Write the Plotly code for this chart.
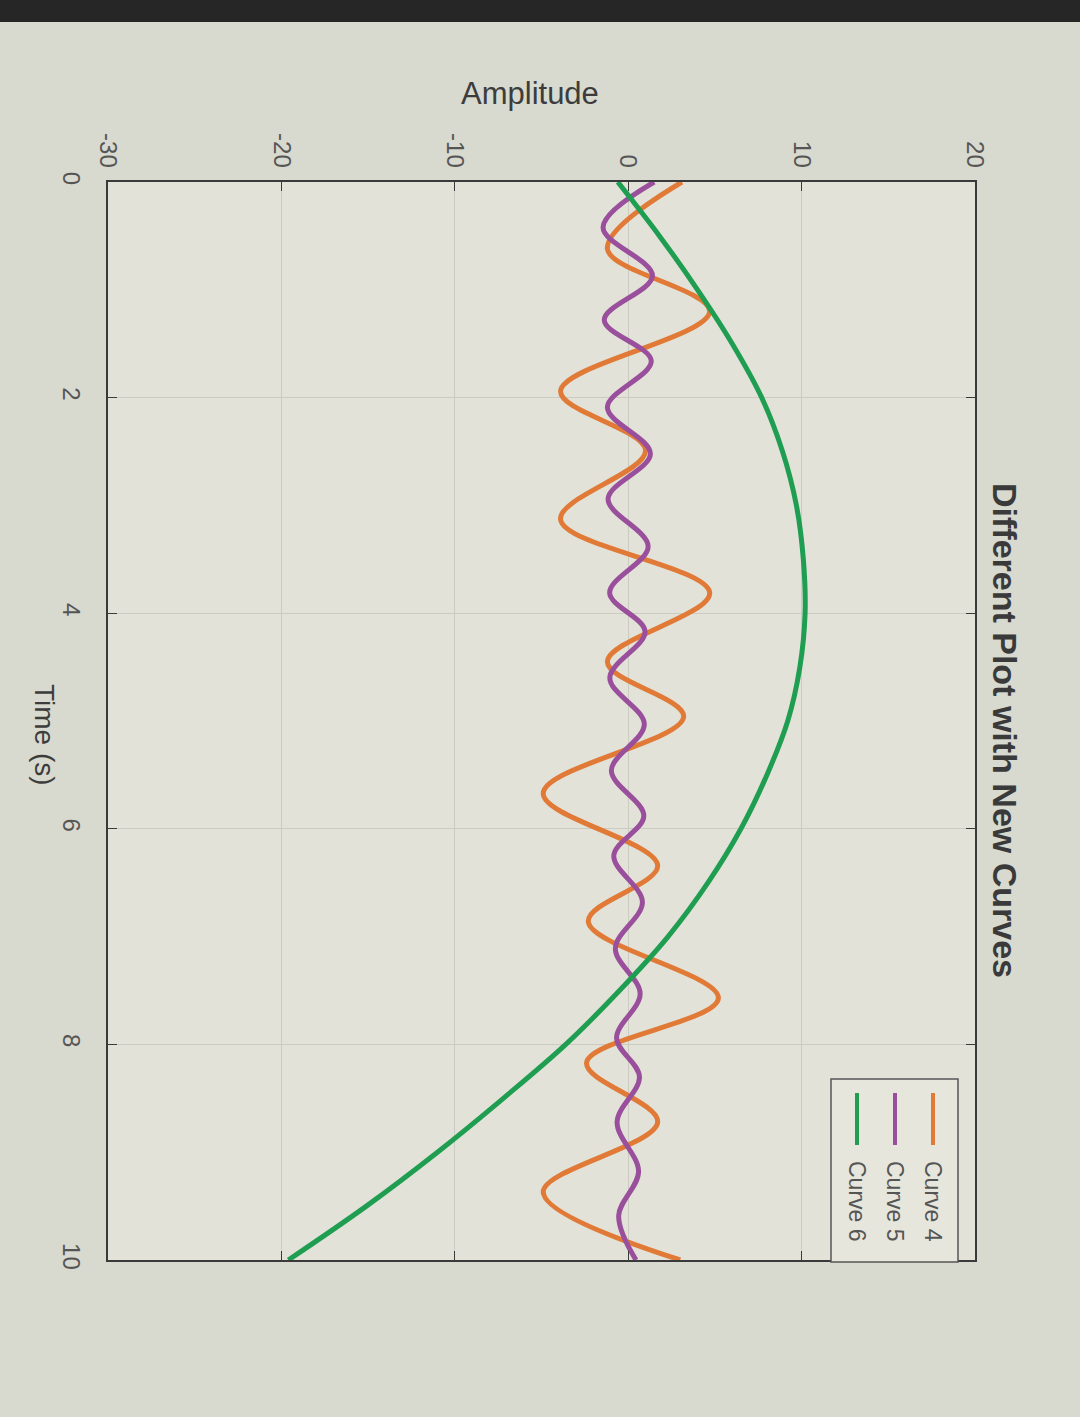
import plotly.graph_objects as go

# ---------------- data ----------------
time_ticks = [0, 2, 4, 6, 8, 10]
amp_ticks = [-30, -20, -10, 0, 10, 20]
time_tick_text = ["0", "2", "4", "6", "8", "10"]
amp_tick_text = ["-30", "-20", "-10", "0", "10", "20"]

# Curve 4 (orange) - turning points
c4_time = [0.0, 0.62, 1.20, 1.94, 2.49, 3.13, 3.81, 4.45, 4.96, 5.67, 6.34, 6.86,
           7.57, 8.17, 8.72, 9.37, 10.0]
c4_amp = [3.1, -1.2, 4.7, -3.9, 1.0, -3.9, 4.7, -1.2, 3.2, -4.9, 1.7, -2.3,
          5.2, -2.4, 1.7, -4.9, 3.0]

# Curve 5 (purple) - turning points
c5_time = [0.0, 0.42, 0.87, 1.28, 1.66, 2.09, 2.52, 2.94, 3.38, 3.81, 4.17, 4.60,
           5.03, 5.46, 5.88, 6.25, 6.68, 7.11, 7.53, 7.94, 8.30, 8.72, 9.18, 9.59, 10.0]
c5_amp = [1.5, -1.45, 1.4, -1.38, 1.33, -1.2, 1.28, -1.16, 1.15, -1.07, 0.97, -1.06,
          0.93, -0.97, 0.9, -0.83, 0.82, -0.74, 0.69, -0.67, 0.65, -0.64, 0.6, -0.55, 0.45]

# Curve 6 (green)
c6_time = [0.0, 0.5, 1.0, 1.5, 2.0, 2.5, 3.0, 3.5, 4.0, 4.5, 5.0, 5.5, 6.0, 6.5,
           7.0, 7.5, 8.0, 8.5, 9.0, 9.5, 10.0]
c6_amp = [-0.6, 1.8, 4.0, 6.0, 7.7, 8.9, 9.7, 10.1, 10.2, 9.9, 9.2, 8.0, 6.5, 4.6,
          2.3, -0.5, -3.6, -7.2, -11.0, -15.1, -19.6]

names = ["Curve 4", "Curve 5", "Curve 6"]
colors = ["#e07a36", "#9a4f9c", "#1f9e52"]

# ---------------- layout helpers (pixel -> paper) ----------------
W, H = 1080, 1417
L, R, T, B = 108, 105, 182, 157
PW, PH = W - L - R, H - T - B


def px(x):
    return (x - L) / PW


def py(y):
    return 1 - (y - T) / PH


FONT = "Liberation Sans, Arial, sans-serif"
TXT = "#3c3c3c"

fig = go.Figure()
for tt, aa, nm, col in [(c4_time, c4_amp, names[0], colors[0]),
                        (c5_time, c5_amp, names[1], colors[1]),
                        (c6_time, c6_amp, names[2], colors[2])]:
    fig.add_trace(go.Scatter(
        x=aa, y=tt, mode="lines", name=nm, showlegend=False,
        line=dict(color=col, width=5, shape="spline", smoothing=1.0),
    ))

axis_common = dict(
    showgrid=True, gridcolor="#cbcbc2", gridwidth=1,
    showline=True, linecolor="#3a3a3a", linewidth=1.6, mirror="allticks",
    ticks="inside", ticklen=9, tickcolor="#3a3a3a", tickwidth=1.3,
    zeroline=False, tickfont=dict(family=FONT, size=24, color="#555555"),
)

fig.update_layout(
    width=W, height=H,
    margin=dict(l=L, r=R, t=T, b=B, pad=0),
    paper_bgcolor="#d8d9cf",
    plot_bgcolor="#e2e2d8",
    xaxis=dict(range=[-30, 20], tickvals=amp_ticks, ticktext=amp_tick_text,
               side="top", tickangle=90, ticklabelstandoff=4, **axis_common),
    yaxis=dict(range=[10, 0], tickvals=time_ticks, ticktext=time_tick_text,
               tickangle=90, ticklabelstandoff=14, **axis_common),
    showlegend=False,
)

annotations = [
    dict(text="<b>Different Plot with New Curves</b>", x=px(1005), y=py(730),
         textangle=90, font=dict(family=FONT, size=34, color="#3a3a3a")),
    dict(text="Time (s)", x=px(45), y=py(735), textangle=90,
         font=dict(family=FONT, size=28, color=TXT)),
    dict(text="Amplitude", x=px(530), y=py(93), textangle=0,
         font=dict(family=FONT, size=31, color=TXT)),
]

shapes = [
    # dark monitor bezel strip at the top of the photo
    dict(type="rect", xref="paper", yref="paper", x0=px(0), x1=px(W),
         y0=py(22), y1=py(0), fillcolor="#262626", line=dict(width=0),
         layer="below"),
    # legend box
    dict(type="rect", xref="paper", yref="paper", x0=px(831), x1=px(958),
         y0=py(1262), y1=py(1079), fillcolor="#e6e6dc",
         line=dict(color="#555555", width=1.5)),
]

leg_x = [933, 895, 857]
for lx, nm, col in zip(leg_x, names, colors):
    shapes.append(dict(type="line", xref="paper", yref="paper",
                       x0=px(lx), x1=px(lx), y0=py(1093), y1=py(1145),
                       line=dict(color=col, width=4)))
    annotations.append(dict(text=nm, x=px(lx), y=py(1201), textangle=90,
                            font=dict(family=FONT, size=23, color="#555555")))

for a in annotations:
    a.update(xref="paper", yref="paper", showarrow=False,
             xanchor="center", yanchor="middle")

fig.update_layout(annotations=annotations, shapes=shapes)

fig.write_html(
    "out.html",
    config={"displayModeBar": False},
    post_script="document.body.style.margin='0';document.body.style.overflow='hidden';",
)
